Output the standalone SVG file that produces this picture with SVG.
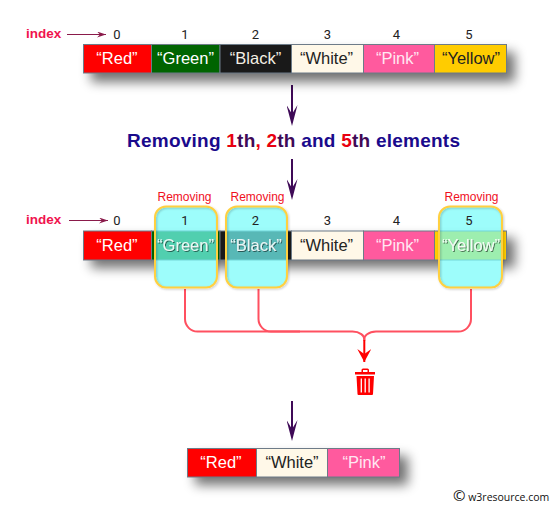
<svg xmlns="http://www.w3.org/2000/svg" width="555" height="506" viewBox="0 0 555 506">
<style>
text{font-family:"Liberation Sans",Arial,sans-serif}
.c{font-size:16.500px;text-anchor:middle}
.w{fill:#fff}
.d{fill:#222}
.p{fill:#ffe8f2}
.n{font-family:Roboto,"Liberation Sans",sans-serif;font-size:13px;text-anchor:middle;fill:#222}
.i{font-size:13.500px;font-weight:bold;fill:#f0144e}
.r{font-size:12px;text-anchor:middle;fill:#f0101e}
.b{stroke:#6d7b88;stroke-width:1}
.h{fill:#73fcf9;fill-opacity:.7}
.o{fill:none;stroke:#ffd040;stroke-width:2;filter:url(#bs)}
.a{stroke:#3f0a57;stroke-width:2;fill:none}
.x{stroke:#8a1a4a;stroke-width:1;fill:none}
.l{stroke:#ff5060;stroke-width:2;fill:none}
.s{font-size:16.500px;text-anchor:middle;fill:#fff;fill-opacity:.88;filter:url(#ts)}
</style>
<defs>
<filter id="sh" x="-10%" y="-80%" width="125%" height="300%"><feGaussianBlur stdDeviation="6"/></filter>
<filter id="bs" x="-20%" y="-20%" width="140%" height="140%"><feDropShadow dx="1" dy="1" stdDeviation="1" flood-color="#000" flood-opacity=".22"/></filter>
<filter id="ts" x="-20%" y="-40%" width="140%" height="200%"><feDropShadow dx="1" dy="1" stdDeviation=".7" flood-color="#000" flood-opacity=".6"/></filter>
<marker id="ah" markerUnits="userSpaceOnUse" markerWidth="21" markerHeight="11" refX="11" refY="5.500" viewBox="0 0 21 11" orient="auto"><path d="M21 5.500 0 0 9 5.500 0 11z" fill="#3f0a57"/></marker>
<marker id="ax" markerUnits="userSpaceOnUse" markerWidth="9" markerHeight="6" refX="9" refY="3" viewBox="0 0 9 6" orient="auto"><path d="M9 3 0 0 3 3 0 6z" fill="#8a1a4a"/></marker>
<marker id="ar" markerUnits="userSpaceOnUse" markerWidth="13" markerHeight="14" refX="13" refY="7" viewBox="0 0 13 14" orient="auto"><path d="M13 7 0 0 5 7 0 14z" fill="#f00"/></marker>
</defs>

<g id="connectors">
<path class="a" d="M292 85V116" marker-end="url(#ah)"/>
<path class="a" d="M292 159V190" marker-end="url(#ah)"/>
<path class="a" d="M292 401V431" marker-end="url(#ah)"/>
<path class="x" d="M67 34.500H106" marker-end="url(#ax)"/>
<path class="x" d="M69 220.500H108" marker-end="url(#ax)"/>
<path class="l" d="M185 289V319a12.500 12.500 0 0 0 12.500 12.500H352a12 8 0 0 1 12.300 9"/>
<path class="l" d="M258.500 289V319a12.500 12.500 0 0 0 12.500 12.500H300"/>
<path class="l" d="M471 289V319a12.500 12.500 0 0 1-12.500 12.500H376a12 8 0 0 0-11.700 9"/>
<path d="M364.300 340V362" stroke="#f00" stroke-width="2" fill="none" marker-end="url(#ar)"/>
</g>

<g id="array-top">
<rect x="91" y="52" width="424" height="30" fill="#000" opacity=".55" filter="url(#sh)"/>
<rect class="b" x="83.500" y="44.500" width="68" height="28.500" fill="#f00"/>
<rect class="b" x="151.500" y="44.500" width="68.500" height="28.500" fill="#006400"/>
<rect class="b" x="220" y="44.500" width="71.500" height="28.500" fill="#191919"/>
<rect class="b" x="291.500" y="44.500" width="72" height="28.500" fill="#fff8e8"/>
<rect class="b" x="363.500" y="44.500" width="71" height="28.500" fill="#ff5a9e"/>
<rect class="b" x="434.500" y="44.500" width="72" height="28.500" fill="#fc0"/>
<text class="c w" x="117" y="64">“Red”</text>
<text class="c w" x="185.500" y="64">“Green”</text>
<text class="c" x="255.500" y="64" fill="#f4f0e4">“Black”</text>
<text class="c d" x="326.500" y="64">“White”</text>
<text class="c p" x="397.500" y="64">“Pink”</text>
<text class="c d" x="471" y="64">“Yellow”</text>
<text class="n" x="117" y="39">0</text>
<text class="n" x="185" y="39">1</text>
<text class="n" x="255.500" y="39">2</text>
<text class="n" x="327.500" y="39">3</text>
<text class="n" x="396.500" y="39">4</text>
<text class="n" x="469" y="39">5</text>
<text class="i" x="26" y="38">index</text>
</g>

<g id="title"><text x="127" y="147" font-size="19" font-weight="bold" fill="#1a0a8c" textLength="333">Removing <tspan fill="#e80010">1</tspan><tspan fill="#3f0a57">th</tspan><tspan fill="#e80010">, 2</tspan><tspan fill="#3f0a57">th</tspan> and <tspan fill="#e80010">5</tspan><tspan fill="#3f0a57">th</tspan> elements</text></g>

<g id="array-middle">
<rect x="91" y="238" width="424" height="30" fill="#000" opacity=".55" filter="url(#sh)"/>
<rect class="b" x="83.500" y="231" width="68" height="29" fill="#f00"/>
<rect class="b" x="151.500" y="231" width="68.500" height="29" fill="#006400"/>
<rect class="b" x="220" y="231" width="71.500" height="29" fill="#191919"/>
<rect class="b" x="291.500" y="231" width="72" height="29" fill="#fff8e8"/>
<rect class="b" x="363.500" y="231" width="71" height="29" fill="#ff5a9e"/>
<rect class="b" x="434.500" y="231" width="72" height="29" fill="#fc0"/>
<text class="c w" x="117" y="251">“Red”</text>
<text class="c d" x="326.500" y="251">“White”</text>
<text class="c p" x="397.500" y="251">“Pink”</text>
<text class="n" x="117" y="225">0</text>
<text class="n" x="327.500" y="225">3</text>
<text class="n" x="396.500" y="225">4</text>
<text class="i" x="26" y="224">index</text>
</g>

<g id="remove-1">
<path fill="#fff" d="M155 260.500h62v16a11 11 0 0 1-11 11h-40a11 11 0 0 1-11-11z"/>
<rect class="h" x="155" y="206.500" width="62" height="81" rx="11"/>
<rect class="o" x="155" y="206.500" width="62" height="81" rx="11"/>
<text class="n" x="185" y="225">1</text>
<text class="s" x="185.500" y="251">“Green”</text>
<text class="r" x="184.500" y="201">Removing</text>
</g>
<g id="remove-2">
<path fill="#fff" d="M226 260.500h61v16a11 11 0 0 1-11 11h-39a11 11 0 0 1-11-11z"/>
<rect class="h" x="226" y="206.500" width="61" height="81" rx="11"/>
<rect class="o" x="226" y="206.500" width="61" height="81" rx="11"/>
<text class="n" x="255.500" y="225">2</text>
<text class="s" x="256" y="251">“Black”</text>
<text class="r" x="257.500" y="201">Removing</text>
</g>
<g id="remove-5">
<path fill="#fff" d="M439 260.500h63v16a11 11 0 0 1-11 11h-41a11 11 0 0 1-11-11z"/>
<rect class="h" x="439" y="206.500" width="63" height="81" rx="11"/>
<rect class="o" x="439" y="206.500" width="63" height="81" rx="11"/>
<text class="n" x="469" y="225">5</text>
<text class="s" x="471" y="251">“Yellow”</text>
<text class="r" x="471.500" y="201">Removing</text>
</g>

<g id="trash">
<path fill="#f00" d="M355 372h20v2.500h-20zM361.500 372v-2q0-1.500 1.500-1.500h4.500q1.500 0 1.500 1.500v2h-1.500v-2h-4.500v2zM356.500 376h17.500l-1 18q0 1-1 1h-13.500q-1 0-1-1z"/>
<path stroke="#fff" stroke-width="1.300" d="M361.300 378.500v14M365.200 378.500v14M369.100 378.500v14"/>
</g>

<g id="array-bottom">
<rect x="195" y="456" width="213" height="29" fill="#000" opacity=".55" filter="url(#sh)"/>
<rect class="b" x="187.500" y="448.500" width="69" height="28.500" fill="#f00"/>
<rect class="b" x="256.500" y="448.500" width="71" height="28.500" fill="#fff8e8"/>
<rect class="b" x="327.500" y="448.500" width="72" height="28.500" fill="#ff5a9e"/>
<text class="c w" x="221" y="468">“Red”</text>
<text class="c d" x="292" y="468">“White”</text>
<text class="c p" x="364" y="468">“Pink”</text>
</g>

<g id="credit"><text x="453" y="501" font-size="10.500" fill="#111" style="font-family:'Open Sans','DejaVu Sans',sans-serif"><tspan font-size="15">©</tspan> w3resource.com</text></g>
</svg>
